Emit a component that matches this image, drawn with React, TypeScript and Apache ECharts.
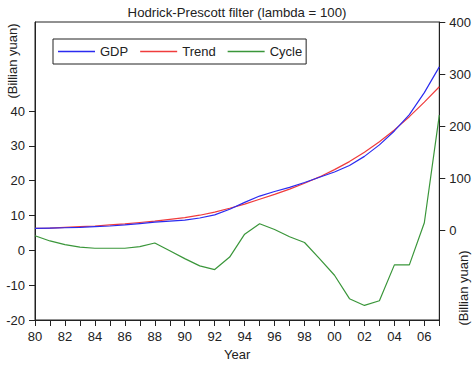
import React, { useEffect, useRef } from "react";
import * as echarts from "echarts";

const years = [1980, 1981, 1982, 1983, 1984, 1985, 1986, 1987, 1988, 1989, 1990, 1991, 1992, 1993, 1994, 1995, 1996, 1997, 1998, 1999, 2000, 2001, 2002, 2003, 2004, 2005, 2006, 2007];
const gdp = [6.3, 6.4, 6.5, 6.6, 6.8, 7.0, 7.3, 7.7, 8.1, 8.4, 8.7, 9.3, 10.2, 11.8, 13.8, 15.6, 16.9, 18.1, 19.5, 21.0, 22.5, 24.4, 27.0, 30.3, 34.3, 39.0, 45.3, 52.7];
const trend = [6.3, 6.4, 6.6, 6.8, 7.0, 7.3, 7.6, 8.0, 8.4, 8.9, 9.4, 10.1, 11.0, 12.1, 13.3, 14.7, 16.1, 17.6, 19.3, 21.1, 23.2, 25.5, 28.2, 31.2, 34.6, 38.4, 42.6, 47.0];
const cycle = [-11, -21, -28, -33, -35, -35, -35, -32, -25, -40, -55, -69, -76, -52, -8, 12, 1, -13, -24, -55, -87, -132, -145, -136, -67, -67, 14, 221];
const leftTicks = [-20, -10, 0, 10, 20, 30, 40];
const rightTicks = [0, 100, 200, 300, 400];
const seriesNames = ["GDP", "Trend", "Cycle"];
const title = "Hodrick-Prescott filter (lambda = 100)";
const axisUnit = "(Billian yuan)";
const xName = "Year";

const FONT = "'Liberation Sans', Arial, sans-serif";
const INK = "#222";

export default function App() {
  const ref = useRef<HTMLDivElement>(null);
  useEffect(() => {
    document.body.style.margin = "0";
    const chart = echarts.init(ref.current!, null, { renderer: "svg" });
    const axisCommon = {
      axisLine: { show: true, onZero: false, lineStyle: { color: INK, width: 1 } },
      axisTick: { show: true, length: 6, lineStyle: { color: INK } },
      axisLabel: { color: INK, fontSize: 13, fontFamily: FONT, margin: 10 },
      splitLine: { show: false },
    };
    chart.setOption({
      animation: false,
      backgroundColor: "#fff",
      title: {
        text: title,
        left: "center",
        top: 1,
        textStyle: { fontSize: 13.2, fontWeight: "normal", color: INK, fontFamily: FONT },
      },
      legend: {
        left: 53,
        top: 39,
        data: seriesNames,
        icon: "rect",
        itemWidth: 37,
        itemHeight: 1.5,
        itemGap: 12,
        padding: [6, 4, 6, 5],
        borderWidth: 1,
        borderColor: INK,
        textStyle: { fontSize: 13, color: INK, fontFamily: FONT, padding: [0, 0, 0, 0] },
      },
      grid: {
        left: 35,
        right: 34,
        top: 22,
        bottom: 40,
        show: true,
        borderColor: INK,
        borderWidth: 1,
        backgroundColor: "transparent",
      },
      xAxis: {
        type: "value",
        min: 1980,
        max: 2007,
        interval: 1,
        name: xName,
        nameLocation: "middle",
        nameGap: 28,
        nameTextStyle: { fontSize: 13, color: INK, fontFamily: FONT },
        ...axisCommon,
        axisLabel: {
          ...axisCommon.axisLabel,
          formatter: (v: number) => (v % 2 === 0 ? String(v % 100).padStart(2, "0") : ""),
        },
      },
      yAxis: [
        {
          type: "value",
          min: -20,
          max: 65.6,
          interval: 10,
          ...axisCommon,
          axisTick: { ...axisCommon.axisTick, customValues: leftTicks },
          axisLabel: { ...axisCommon.axisLabel, customValues: leftTicks },
        },
        {
          type: "value",
          position: "right",
          min: -173,
          max: 400,
          interval: 100,
          ...axisCommon,
          axisTick: { ...axisCommon.axisTick, customValues: rightTicks },
          axisLabel: { ...axisCommon.axisLabel, customValues: rightTicks },
        },
      ],
      graphic: [
        {
          type: "text",
          x: 12,
          y: 61,
          rotation: Math.PI / 2,
          style: {
            text: axisUnit,
            fontSize: 13,
            fontFamily: FONT,
            fill: INK,
            align: "center",
            verticalAlign: "middle",
          },
        },
        {
          type: "text",
          x: 463,
          y: 288,
          rotation: Math.PI / 2,
          style: {
            text: axisUnit,
            fontSize: 13,
            fontFamily: FONT,
            fill: INK,
            align: "center",
            verticalAlign: "middle",
          },
        },
      ],
      series: [
        {
          name: seriesNames[0],
          type: "line",
          symbol: "none",
          yAxisIndex: 0,
          data: years.map((y, i) => [y, gdp[i]]),
          lineStyle: { color: "#2b2bf0", width: 1.2 },
          itemStyle: { color: "#2b2bf0" },
          z: 3,
        },
        {
          name: seriesNames[1],
          type: "line",
          symbol: "none",
          yAxisIndex: 0,
          data: years.map((y, i) => [y, trend[i]]),
          lineStyle: { color: "#f03c3c", width: 1.2 },
          itemStyle: { color: "#f03c3c" },
          z: 2,
        },
        {
          name: seriesNames[2],
          type: "line",
          symbol: "none",
          yAxisIndex: 1,
          data: years.map((y, i) => [y, cycle[i]]),
          lineStyle: { color: "#3a963a", width: 1.2 },
          itemStyle: { color: "#3a963a" },
          z: 2,
        },
      ],
    });
    return () => chart.dispose();
  }, []);
  return <div ref={ref} style={{ width: 474, height: 366 }} />;
}
